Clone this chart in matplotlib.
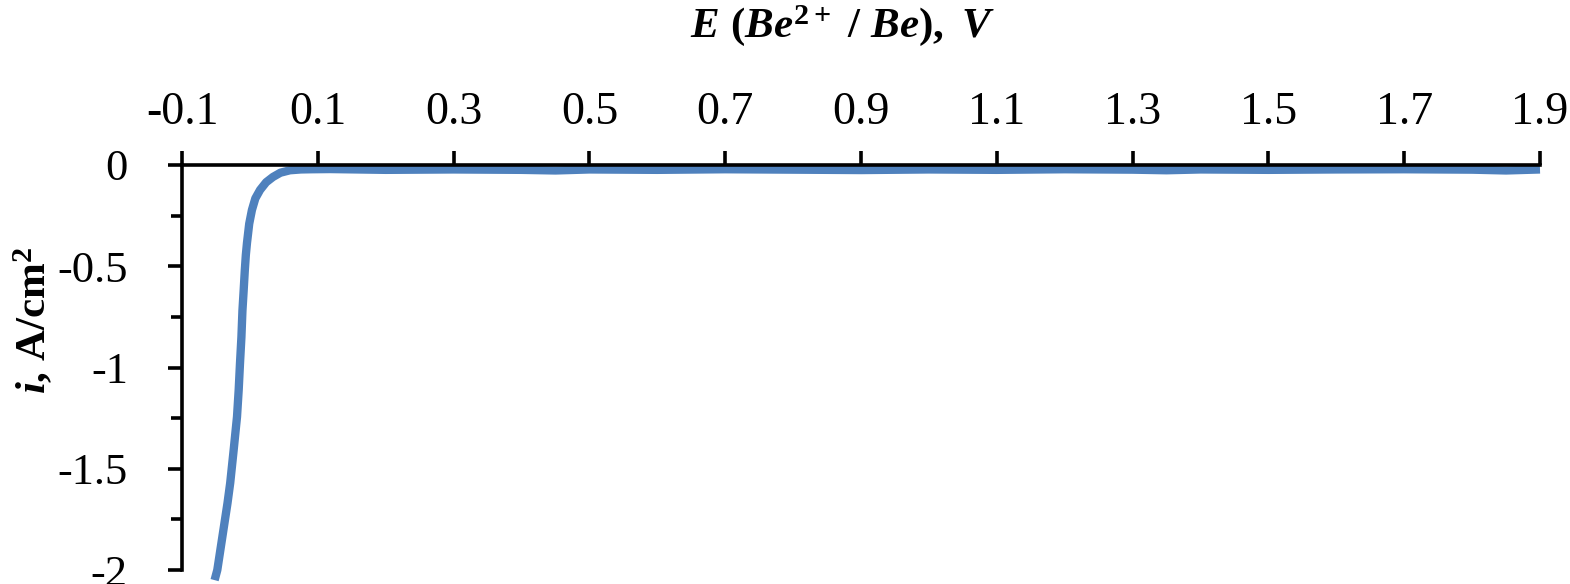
import matplotlib.pyplot as plt
from matplotlib.ticker import MultipleLocator

plt.rcParams['font.family'] = ['Liberation Serif', 'DejaVu Serif']
plt.rcParams['mathtext.fontset'] = 'custom'
plt.rcParams['mathtext.rm'] = 'Liberation Serif:bold'
plt.rcParams['mathtext.it'] = 'Liberation Serif:italic:bold'
plt.rcParams['mathtext.bf'] = 'Liberation Serif:bold'
plt.rcParams['axes.unicode_minus'] = False

# potential (V vs Be2+/Be) and current density (A/cm2)
potential = [-0.052, -0.048, -0.043, -0.038, -0.033, -0.029, -0.024, -0.019,
             -0.0165, -0.0146, -0.0125, -0.011, -0.0092, -0.0075, -0.006,
             -0.0043, -0.001, 0.003, 0.008, 0.015, 0.024, 0.034, 0.045,
             0.059, 0.075, 0.09, 0.118, 0.2, 0.3, 0.4,
             0.45, 0.5, 0.6, 0.7, 0.8, 0.9, 1.0, 1.1, 1.2, 1.3, 1.35, 1.4,
             1.5, 1.6, 1.7, 1.8, 1.85, 1.9]
current = [-2.05, -2.0, -1.89, -1.78, -1.67, -1.57, -1.41, -1.244,
           -1.11, -0.98, -0.85, -0.72, -0.62, -0.52, -0.445,
           -0.385, -0.29, -0.222, -0.165, -0.123, -0.085, -0.059, -0.038,
           -0.026, -0.022, -0.021, -0.02, -0.024, -0.022, -0.024,
           -0.027, -0.022, -0.024, -0.021, -0.023, -0.025, -0.022, -0.024, -0.021, -0.023, -0.026, -0.022,
           -0.024, -0.022, -0.021, -0.023, -0.027, -0.022]

x_ticks = [-0.1, 0.1, 0.3, 0.5, 0.7, 0.9, 1.1, 1.3, 1.5, 1.7, 1.9]
y_ticks = [0, -0.5, -1, -1.5, -2]

fig = plt.figure(figsize=(15.7, 5.84), dpi=100)
ax = fig.add_axes([182 / 1570, 14 / 584, 1358 / 1570, 405 / 584])

ax.plot(potential, current, color='#4f81bd', lw=6, clip_on=False,
        solid_capstyle='butt', solid_joinstyle='round', zorder=3)

ax.set_xlim(-0.1, 1.9)
ax.set_ylim(-2, 0)

ax.xaxis.tick_top()
ax.set_xticks(x_ticks)
ax.set_xticklabels([f'{v:g}' for v in x_ticks])
ax.set_yticks(y_ticks)
ax.set_yticklabels([f'{v:g}' for v in y_ticks])
ax.yaxis.set_minor_locator(MultipleLocator(0.25))

for s in ['right', 'bottom']:
    ax.spines[s].set_visible(False)
for s in ['top', 'left']:
    ax.spines[s].set_linewidth(2.6)
    ax.spines[s].set_zorder(4)

ax.tick_params(axis='x', which='major', direction='out', length=10, width=2.6,
               labelsize=33, pad=12)
ax.tick_params(axis='y', which='major', direction='out', length=10, width=2.6,
               labelsize=32, pad=29)
ax.tick_params(axis='y', which='minor', direction='out', length=8, width=2.6)

fig.text(842 / 1570, 1 - 26 / 584, r'$E\ (Be^{2+}\ /\ Be),\ V$',
         ha='center', va='center', fontsize=31)
fig.text(33 / 1570, 1 - 320 / 584, r'$i$, A/cm$^2$', rotation=90,
         ha='center', va='center', fontsize=31, fontweight='bold')

fig.savefig('out.png', dpi=100)
